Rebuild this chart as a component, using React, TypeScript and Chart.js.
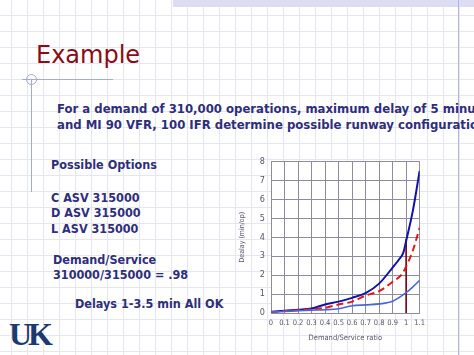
import React, { useEffect, useRef } from "react";
import { Chart, registerables } from "chart.js";

Chart.register(...registerables);

// ---- chart data ----
const darkX = [0, 0.1, 0.2, 0.3, 0.4, 0.5, 0.6, 0.7, 0.8, 0.9, 0.95, 0.98, 1.0, 1.05, 1.1];
const darkY = [0.05, 0.12, 0.17, 0.24, 0.45, 0.6, 0.8, 1.05, 1.55, 2.4, 2.85, 3.2, 3.8, 5.4, 7.5];
const redX = [0, 0.1, 0.2, 0.3, 0.4, 0.5, 0.6, 0.7, 0.8, 0.9, 0.97, 1.0, 1.05, 1.1];
const redY = [0.05, 0.1, 0.15, 0.2, 0.27, 0.45, 0.6, 0.92, 1.15, 1.65, 2.05, 2.45, 3.3, 4.5];
const lightX = [0, 0.1, 0.2, 0.3, 0.4, 0.5, 0.6, 0.7, 0.8, 0.9, 1.0, 1.05, 1.1];
const lightY = [0.05, 0.08, 0.12, 0.15, 0.17, 0.22, 0.38, 0.43, 0.48, 0.62, 1.07, 1.38, 1.73];
const markerX = [1.0, 1.0];
const markerY = [0, 3.9];
const xTicks = ["0", "0.1", "0.2", "0.3", "0.4", "0.5", "0.6", "0.7", "0.8", "0.9", "1", "1.1"];
const yTicks = ["0", "1", "2", "3", "4", "5", "6", "7", "8"];
const xTitle = "Demand/Service ratio";
const yTitle = "Dealay (min/op)";

const pts = (xs: number[], ys: number[]) => xs.map((x, i) => ({ x, y: ys[i] }));

const navy = "#2e2e7c";
const narrow = "'DejaVu Sans Condensed', 'Liberation Sans Narrow', 'DejaVu Sans', sans-serif";

const plotBg = {
  id: "plotBg",
  beforeDraw(chart: any) {
    const { ctx, chartArea } = chart;
    ctx.save();
    ctx.fillStyle = "#ffffff";
    ctx.fillRect(chartArea.left, chartArea.top, chartArea.right - chartArea.left, chartArea.bottom - chartArea.top);
    ctx.restore();
  },
};

function DelayChart() {
  const ref = useRef<HTMLCanvasElement>(null);
  useEffect(() => {
    if (!ref.current) return;
    const chart = new Chart(ref.current, {
      type: "line",
      data: {
        datasets: [
          {
            data: pts(lightX, lightY),
            borderColor: "#4a66d8",
            borderWidth: 1.6,
            pointRadius: 0,
            cubicInterpolationMode: "monotone",
          },
          {
            data: pts(redX, redY),
            borderColor: "#e01818",
            borderWidth: 2,
            borderDash: [7, 4],
            pointRadius: 0,
            cubicInterpolationMode: "monotone",
          },
          {
            data: pts(darkX, darkY),
            borderColor: "#1212a8",
            borderWidth: 2,
            pointRadius: 0,
            cubicInterpolationMode: "monotone",
          },
          {
            data: pts(markerX, markerY),
            borderColor: "#7a0010",
            borderWidth: 1.6,
            pointRadius: 0,
          },
        ],
      },
      options: {
        animation: false,
        responsive: false,
        maintainAspectRatio: false,
        layout: { padding: { top: 3, right: 8, left: 0, bottom: 0 } },
        plugins: { legend: { display: false }, tooltip: { enabled: false } },
        scales: {
          x: {
            type: "linear",
            min: 0,
            max: 1.1,
            afterBuildTicks: (s: any) => {
              s.ticks = xTicks.map((t) => ({ value: parseFloat(t) }));
            },
            ticks: {
              autoSkip: false,
              maxRotation: 0,
              padding: 6,
              color: "#55556a",
              font: { family: narrow, size: 7.5 },
              callback: (_v: any, i: number) => xTicks[i],
            },
            grid: { color: "#8c8c9c", lineWidth: 1, drawTicks: false },
            border: { color: "#8c8c9c" },
            title: {
              display: true,
              text: xTitle,
              color: "#55556a",
              font: { family: narrow, size: 7.5 },
              padding: { top: 4, bottom: 12 },
            },
            afterFit: (s: any) => {
              s.height = 42;
            },
          },
          y: {
            type: "linear",
            min: 0,
            max: 8,
            afterBuildTicks: (s: any) => {
              s.ticks = yTicks.map((t) => ({ value: parseFloat(t) }));
            },
            ticks: {
              padding: 6,
              color: "#55556a",
              font: { family: narrow, size: 9 },
              callback: (_v: any, i: number) => yTicks[i],
            },
            grid: { color: "#8c8c9c", lineWidth: 1, drawTicks: false },
            border: { color: "#8c8c9c" },
            title: {
              display: true,
              text: yTitle,
              color: "#55556a",
              font: { family: narrow, size: 7 },
              padding: { top: 0, bottom: 2 },
            },
            afterFit: (s: any) => {
              s.width = 33;
            },
          },
        },
      },
      plugins: [plotBg],
    } as any);
    return () => chart.destroy();
  }, []);
  return <canvas ref={ref} width={193} height={205} style={{ position: "absolute", left: 238, top: 150, width: 193, height: 205 }} />;
}

const textStyle = (left: number, top: number, size = 12.5): React.CSSProperties => ({
  position: "absolute",
  left,
  top,
  fontFamily: narrow,
  fontWeight: "bold",
  fontSize: size,
  lineHeight: 1,
  color: navy,
  whiteSpace: "nowrap",
});

export default function App() {
  useEffect(() => {
    document.body.style.margin = "0";
  }, []);
  return (
    <div
      style={{
        position: "relative",
        width: 474,
        height: 355,
        overflow: "hidden",
        backgroundColor: "#ffffff",
        backgroundImage:
          "linear-gradient(to right, #e6e6f3 1px, transparent 1px), linear-gradient(to bottom, #e6e6f3 1px, transparent 1px)",
        backgroundSize: "16px 16px",
        backgroundPosition: "11px 15px",
        margin: 0,
      }}
    >
      <div style={{ position: "absolute", left: 173, top: 0, width: 301, height: 7, background: "#dcdcf4" }} />
      <div style={{ position: "absolute", left: 458, top: 0, width: 1, height: 355, background: "#b4b4e2" }} />
      <div style={{ position: "absolute", left: 22, top: 79, width: 91, height: 1, background: "#a4a8da" }} />
      <div style={{ position: "absolute", left: 31, top: 79, width: 1, height: 113, background: "#a4a8da" }} />
      <div
        style={{
          position: "absolute",
          left: 26,
          top: 74,
          width: 9,
          height: 9,
          borderRadius: "50%",
          border: "1px solid #a4a8da",
        }}
      />
      <div
        style={{
          position: "absolute",
          left: 36,
          top: 43,
          fontFamily: "DejaVu Sans",
          fontSize: 24,
          lineHeight: 1,
          color: "#8a0c14",
          whiteSpace: "nowrap",
        }}
      >
        Example
      </div>
      <div style={textStyle(57, 102, 13)}>For a demand of 310,000 operations, maximum delay of 5 minutes</div>
      <div style={textStyle(57, 118, 13)}>and MI 90 VFR, 100 IFR determine possible runway configurations</div>
      <div style={textStyle(51, 159)}>Possible Options</div>
      <div style={textStyle(51, 192)}>C ASV 315000</div>
      <div style={textStyle(51, 207)}>D ASV 315000</div>
      <div style={textStyle(51, 223)}>L ASV 315000</div>
      <div style={textStyle(53, 254)}>Demand/Service</div>
      <div style={textStyle(53, 269)}>310000/315000 = .98</div>
      <div style={textStyle(75, 298)}>Delays 1-3.5 min All OK</div>
      <div
        style={{
          position: "absolute",
          left: 9,
          top: 318,
          fontFamily: "Liberation Serif",
          fontWeight: "bold",
          fontSize: 32,
          lineHeight: 1,
          letterSpacing: -4,
          color: "#1c3a70",
        }}
      >
        UK
      </div>
      <DelayChart />
    </div>
  );
}
